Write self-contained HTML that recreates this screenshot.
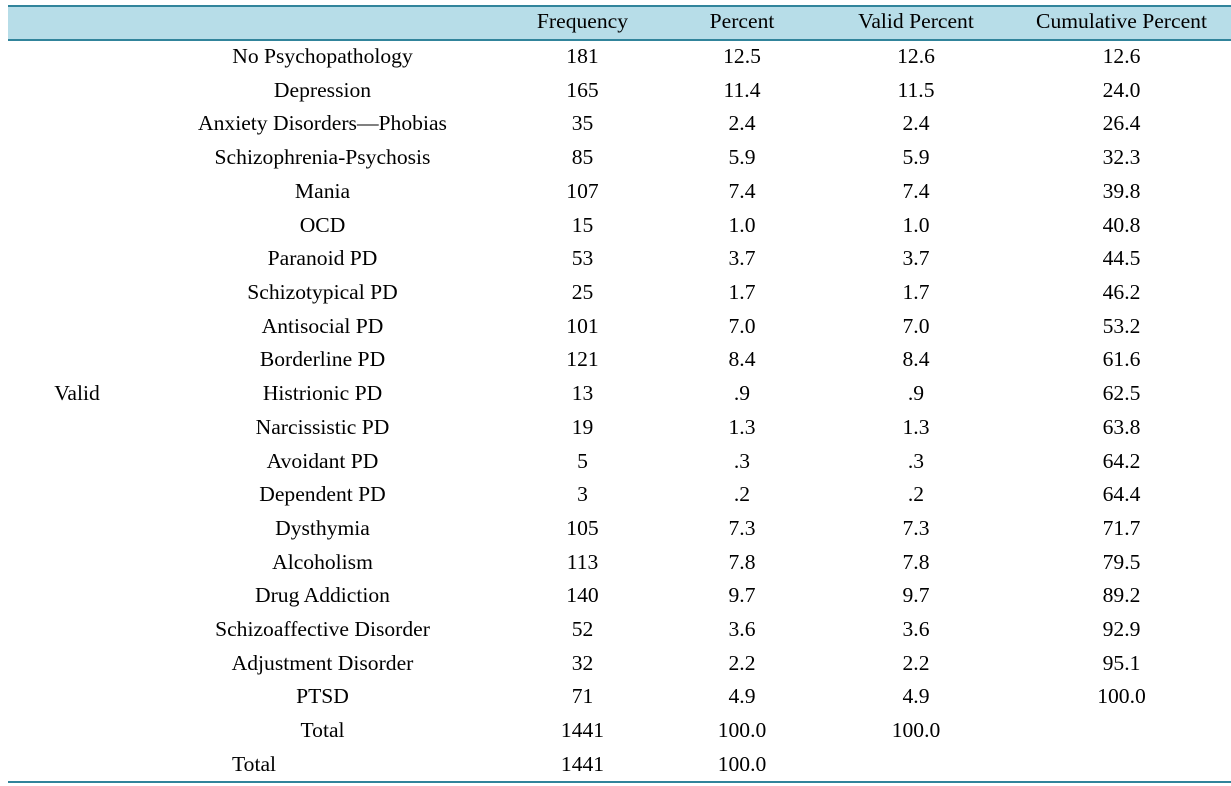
<!DOCTYPE html>
<html>
<head>
<meta charset="utf-8">
<style>
html,body{margin:0;padding:0;background:#fff;}
body{width:1231px;height:786px;position:relative;overflow:hidden;font-family:"Liberation Serif","Times New Roman",serif;font-size:21.6px;color:#000;}
.hdr{position:absolute;left:8px;top:5px;width:1223px;height:32px;background:#b7dde8;border-top:2px solid #31849b;border-bottom:2px solid #31849b;}
.bot{position:absolute;left:8px;top:781px;width:1223px;height:2px;background:#31849b;}
.c{position:absolute;width:300px;text-align:center;line-height:33.71px;height:33.71px;white-space:nowrap;}
</style>
</head>
<body>
<div class="hdr"></div>
<div class="bot"></div>
<div id="t"></div>
<script>
(function(){
var rows=[
["No Psychopathology","181","12.5","12.6","12.6"],
["Depression","165","11.4","11.5","24.0"],
["Anxiety Disorders—Phobias","35","2.4","2.4","26.4"],
["Schizophrenia-Psychosis","85","5.9","5.9","32.3"],
["Mania","107","7.4","7.4","39.8"],
["OCD","15","1.0","1.0","40.8"],
["Paranoid PD","53","3.7","3.7","44.5"],
["Schizotypical PD","25","1.7","1.7","46.2"],
["Antisocial PD","101","7.0","7.0","53.2"],
["Borderline PD","121","8.4","8.4","61.6"],
["Histrionic PD","13",".9",".9","62.5"],
["Narcissistic PD","19","1.3","1.3","63.8"],
["Avoidant PD","5",".3",".3","64.2"],
["Dependent PD","3",".2",".2","64.4"],
["Dysthymia","105","7.3","7.3","71.7"],
["Alcoholism","113","7.8","7.8","79.5"],
["Drug Addiction","140","9.7","9.7","89.2"],
["Schizoaffective Disorder","52","3.6","3.6","92.9"],
["Adjustment Disorder","32","2.2","2.2","95.1"],
["PTSD","71","4.9","4.9","100.0"],
["Total","1441","100.0","100.0",""]
];
var centers=[322.5,582.5,742,916,1121.5];
var t=document.getElementById('t');
var h='';
function cell(x,y,s){return '<div class="c" style="left:'+(x-150)+'px;top:'+y.toFixed(2)+'px">'+s+'</div>';}
var hd=["Frequency","Percent","Valid Percent","Cumulative Percent"];
for(var k=0;k<4;k++){h+=cell(centers[k+1],5,hd[k]);}
for(var i=0;i<rows.length;i++){
 var y=40+i*33.71;
 for(var j=0;j<5;j++){ if(rows[i][j]!=='') h+=cell(centers[j],y,rows[i][j]); }
}
var yl=40+21*33.71;
h+=cell(254,yl,"Total");
h+=cell(582.5,yl,"1441");
h+=cell(742,yl,"100.0");
h+=cell(77,40+10*33.71,"Valid");
t.innerHTML=h;
})();
</script>
</body>
</html>
